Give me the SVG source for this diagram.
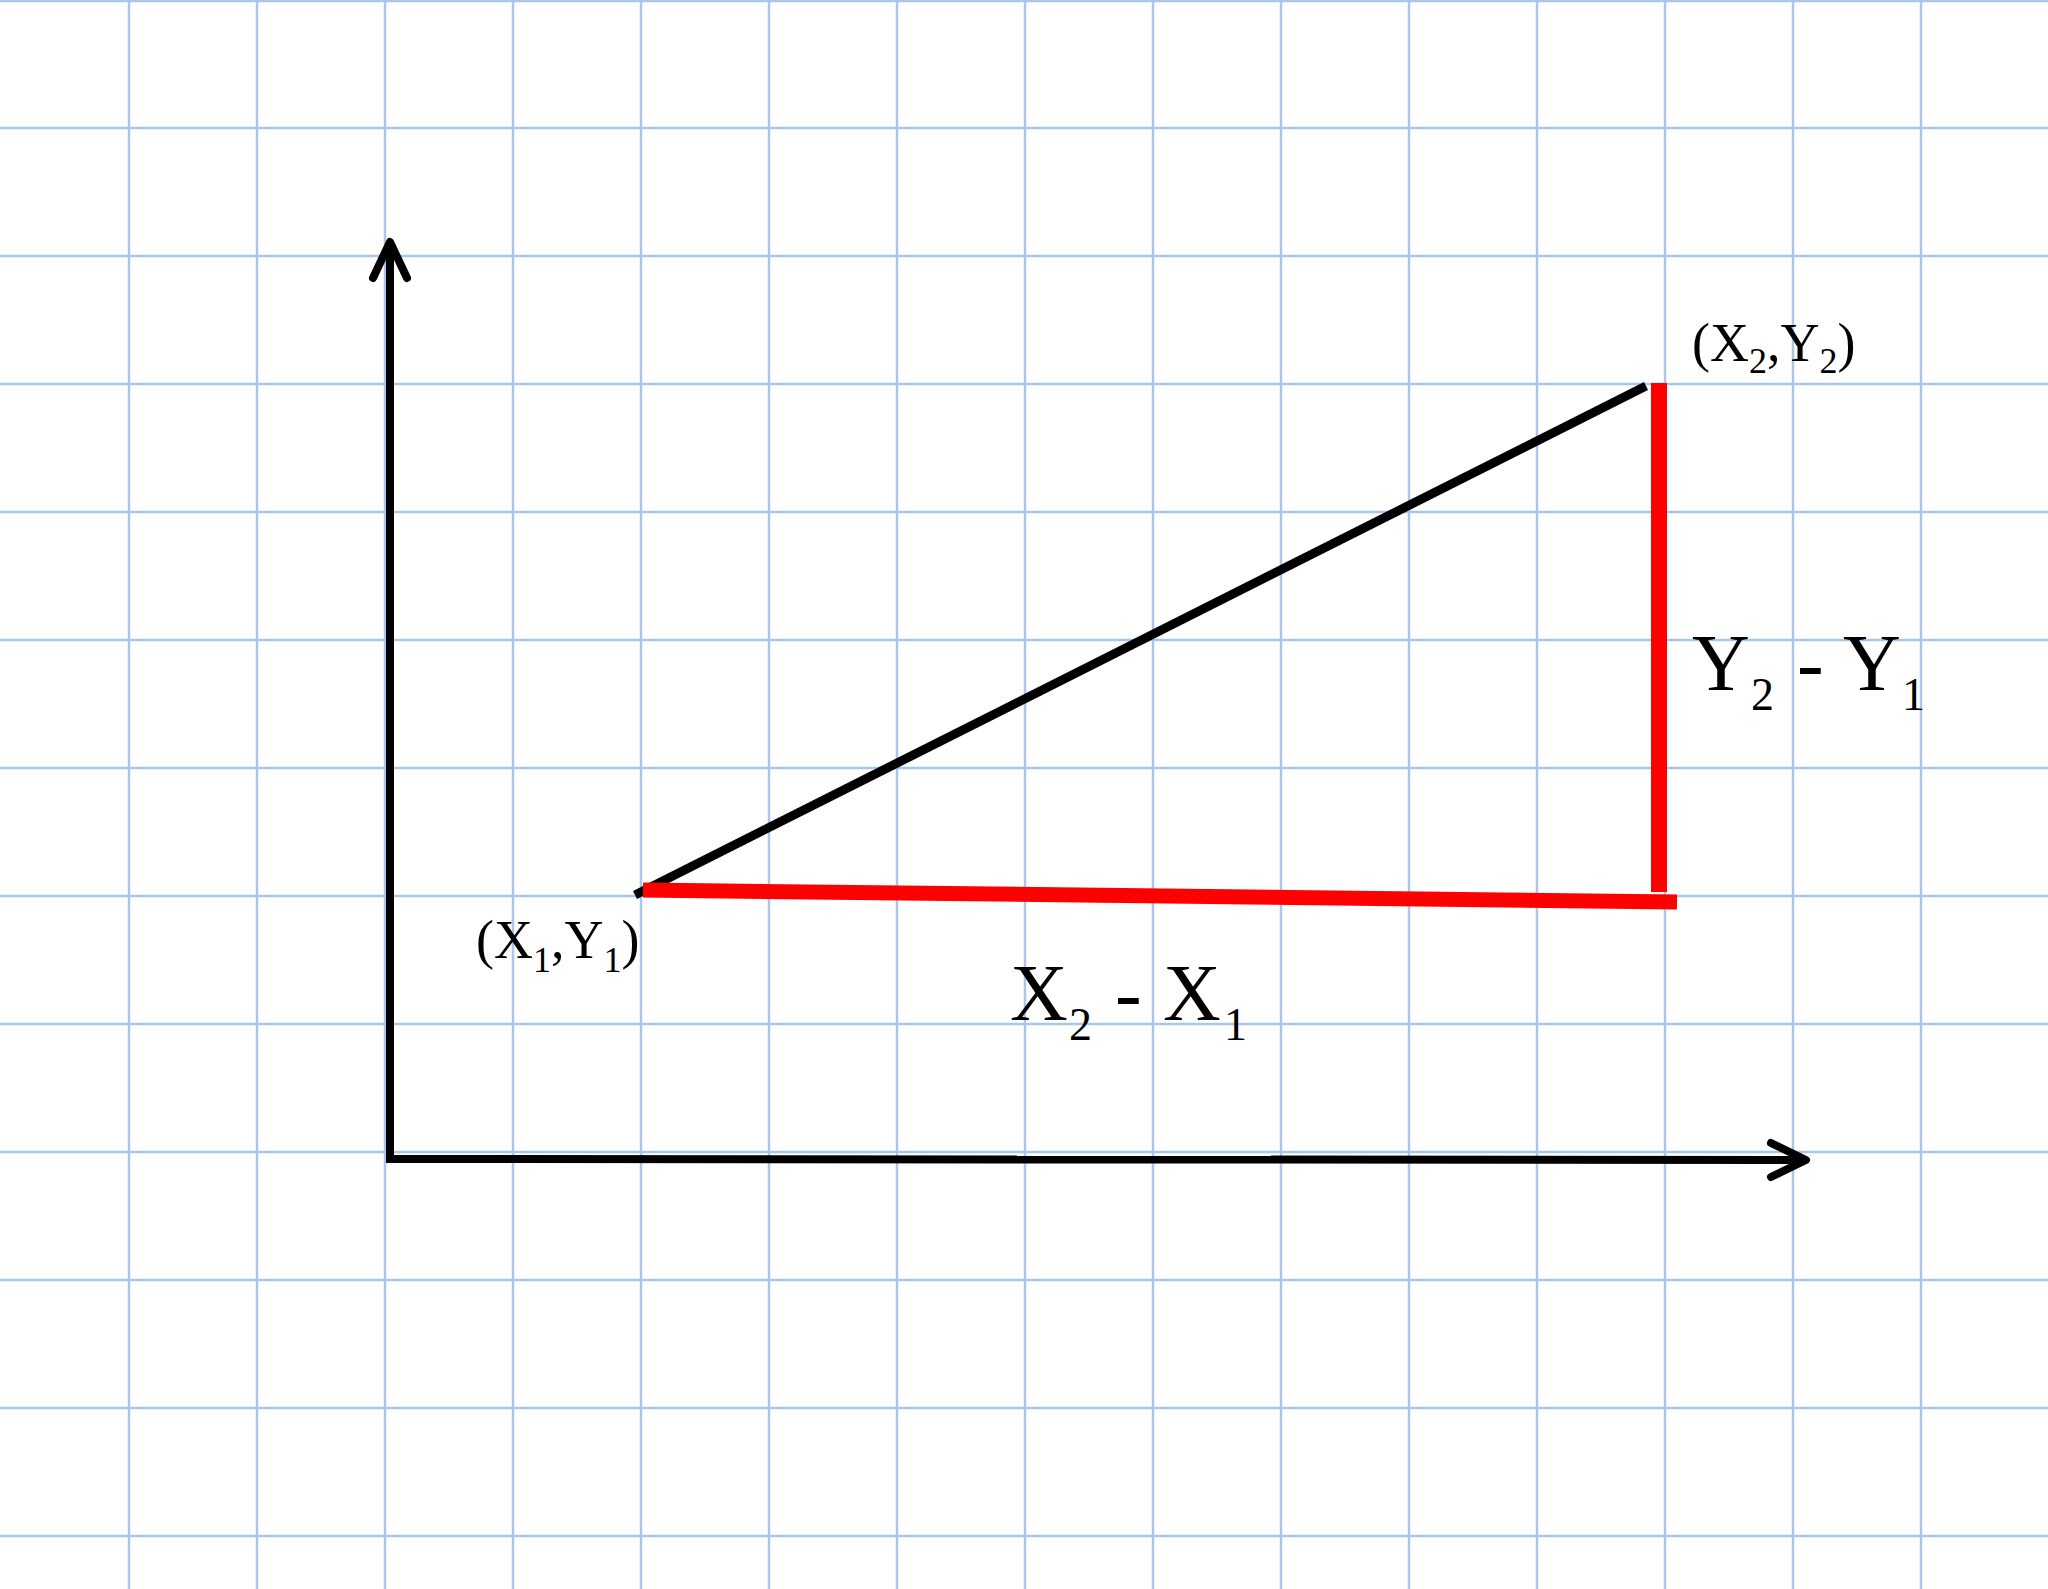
<svg xmlns="http://www.w3.org/2000/svg" width="2048" height="1589" viewBox="0 0 2048 1589">
<style>
.grid line{stroke:#a9c7ea;stroke-width:2.5}
.ax{stroke:#000;stroke-width:8;fill:none;stroke-linecap:round;stroke-linejoin:round}
.red{stroke:#ff0000;stroke-width:16;fill:none}
text{font-family:"Liberation Serif","Times New Roman",serif;fill:#000}
.sm{font-size:54px}
.sms{font-size:36px}
.big{font-size:80px}
.bigs{font-size:46px}
</style>
<rect width="2048" height="1589" fill="#fff"/>
<g id="grid" class="grid">
<line x1="0" y1="1" x2="2048" y2="1"/>
<line x1="0" y1="128" x2="2048" y2="128"/>
<line x1="0" y1="256" x2="2048" y2="256"/>
<line x1="0" y1="384" x2="2048" y2="384"/>
<line x1="0" y1="512" x2="2048" y2="512"/>
<line x1="0" y1="640" x2="2048" y2="640"/>
<line x1="0" y1="768" x2="2048" y2="768"/>
<line x1="0" y1="896" x2="2048" y2="896"/>
<line x1="0" y1="1024" x2="2048" y2="1024"/>
<line x1="0" y1="1152" x2="2048" y2="1152"/>
<line x1="0" y1="1280" x2="2048" y2="1280"/>
<line x1="0" y1="1408" x2="2048" y2="1408"/>
<line x1="0" y1="1536" x2="2048" y2="1536"/>
<line x1="129" y1="0" x2="129" y2="1589"/>
<line x1="257" y1="0" x2="257" y2="1589"/>
<line x1="385" y1="0" x2="385" y2="1589"/>
<line x1="513" y1="0" x2="513" y2="1589"/>
<line x1="641" y1="0" x2="641" y2="1589"/>
<line x1="769" y1="0" x2="769" y2="1589"/>
<line x1="897" y1="0" x2="897" y2="1589"/>
<line x1="1025" y1="0" x2="1025" y2="1589"/>
<line x1="1153" y1="0" x2="1153" y2="1589"/>
<line x1="1281" y1="0" x2="1281" y2="1589"/>
<line x1="1409" y1="0" x2="1409" y2="1589"/>
<line x1="1537" y1="0" x2="1537" y2="1589"/>
<line x1="1665" y1="0" x2="1665" y2="1589"/>
<line x1="1793" y1="0" x2="1793" y2="1589"/>
<line x1="1921" y1="0" x2="1921" y2="1589"/>
</g>
<g id="connectors">
<g id="y-axis">
<line class="ax" x1="390" y1="1159" x2="390" y2="242" style="stroke-linecap:butt"/>
<polyline class="ax" points="373,278 390,242 407,278"/>
</g>
<g id="x-axis">
<line class="ax" x1="386" y1="1159" x2="1806" y2="1160" style="stroke-linecap:butt"/>
<polyline class="ax" points="1771,1143 1806,1160 1771,1177"/>
</g>
<line id="hypotenuse" x1="635" y1="895" x2="1646" y2="386" stroke="#000" stroke-width="9"/>
<line id="dx" class="red" x1="643" y1="890" x2="1677" y2="902" style="stroke-width:15"/>
<line id="dy" class="red" x1="1659" y1="383" x2="1659" y2="892"/>
</g>
<g id="p1-label">
<text class="sm" x="476" y="958">(X<tspan class="sms" dy="14">1</tspan><tspan dy="-14">,Y</tspan><tspan class="sms" dy="14">1</tspan><tspan dy="-14">)</tspan></text>
</g>
<g id="p2-label">
<text class="sm" x="1692" y="361">(X<tspan class="sms" dy="12">2</tspan><tspan dy="-12">,Y</tspan><tspan class="sms" dy="12">2</tspan><tspan dy="-12">)</tspan></text>
</g>
<g id="dy-label">
<text class="big" x="1692" y="690">Y<tspan class="bigs" x="1751" dy="20">2</tspan><tspan x="1797" dy="-20">-</tspan><tspan x="1843">Y</tspan><tspan class="bigs" x="1902" dy="20">1</tspan></text>
</g>
<g id="dx-label">
<text class="big" x="1010" y="1020">X<tspan class="bigs" x="1069" dy="20">2</tspan><tspan x="1115" dy="-20">-</tspan><tspan x="1163">X</tspan><tspan class="bigs" x="1224" dy="20">1</tspan></text>
</g>
</svg>
